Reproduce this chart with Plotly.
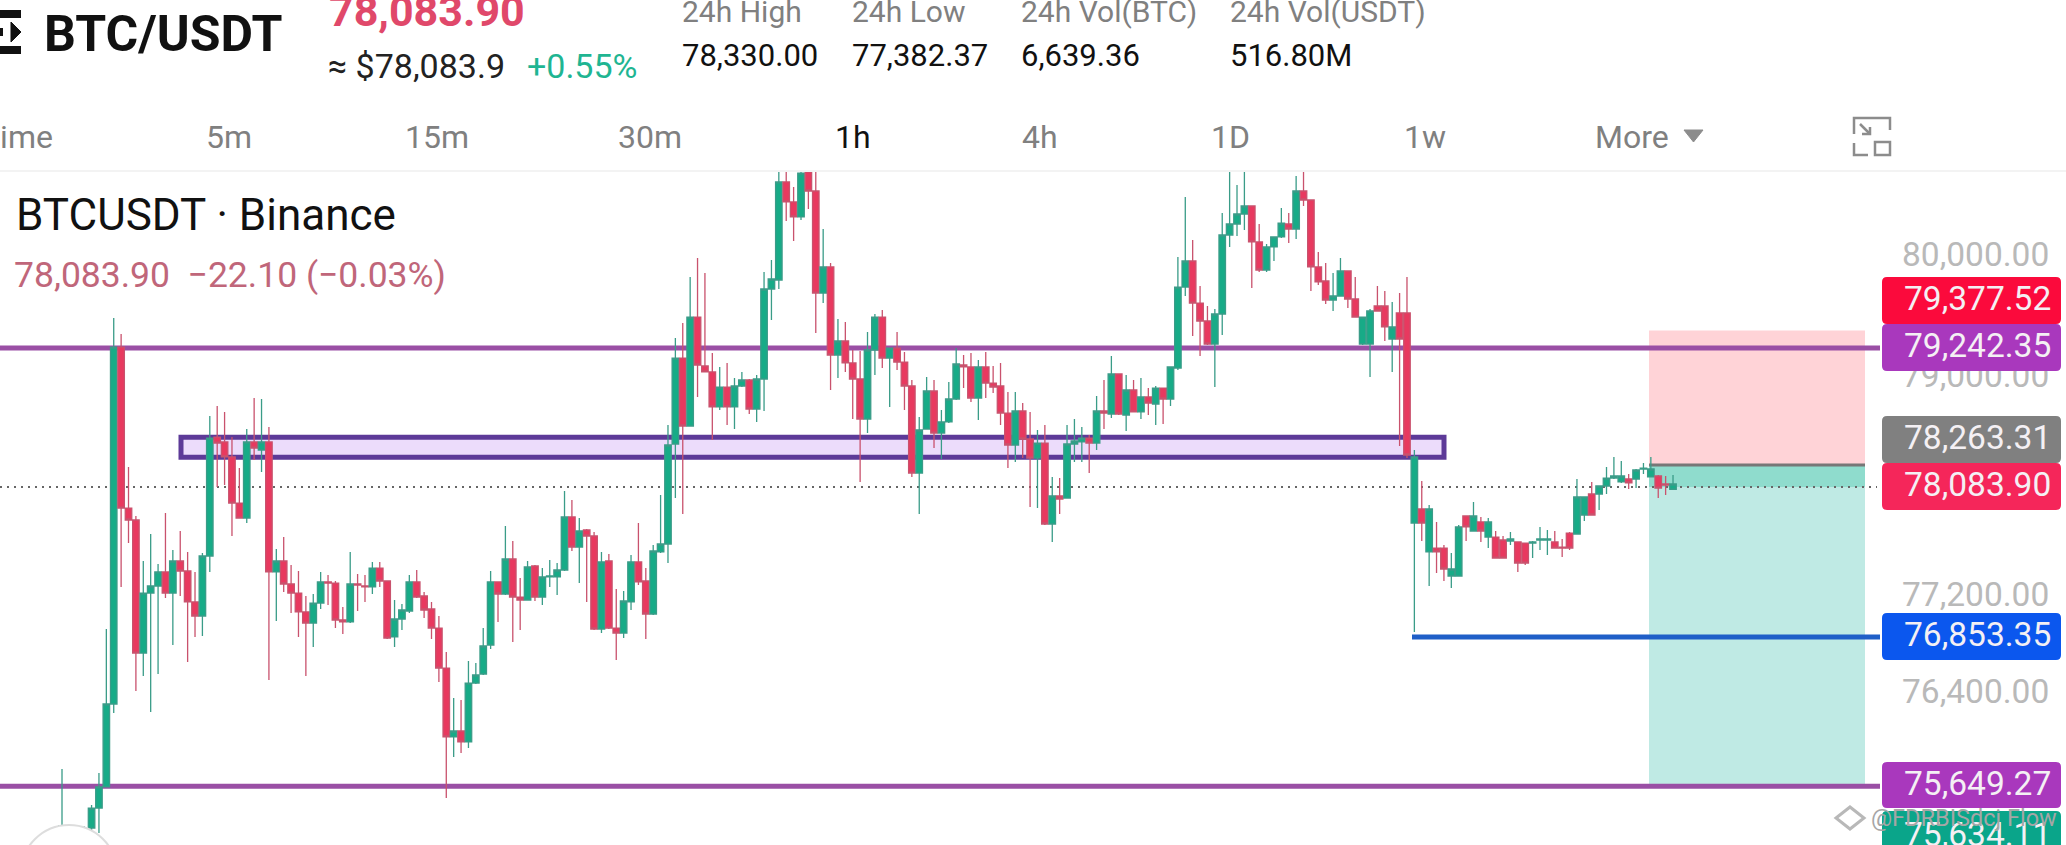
import plotly.graph_objects as go

W = 2066
H = 845
FONT = "Roboto"

# candle values, one entry per hourly candle
up_flags = (
    "GGRGGGGGRRRGGGRGRRRGGRRRRGRGRGRRRRGGRRRGRRGRRGGGRRRRRGRGGGGRGRRGRGGGGRGRRGRRGGRRGGGGRGRRRGRGGRGGGGRRGRRGRGRRRGGRGRRRGGRGGGRRGRRRRGRRGRGRGGGRGRGRGRGRGRGGGRRRGGGGGRRGGGRGRRRRGGRRGGRRGRRGRGRRGGRGRGRRGRRGGGRRRGGRGGGGRGGGRRGR"
)
highs = [
    75790, 75300, 75280, 75320, 75495, 75757, 76938, 79488, 79357, 78267,
    77865, 77496, 77717, 77471, 77889, 77586, 77742, 77570, 77406, 77561,
    78685, 78767, 78718, 78512, 78258, 78578, 78832, 78824, 78595, 77594,
    77692, 77463, 77414, 77209, 77225, 77406, 77381, 77332, 77119, 77570,
    77389, 77381, 77488, 77488, 77332, 77176, 77143, 77381, 77422, 77242,
    77160, 77045, 76750, 76372, 76356, 76676, 76659, 76946, 77414, 77324,
    77783, 77660, 77356, 77496, 77463, 77438, 77504, 77479, 78070, 77996,
    77848, 77758, 77734, 77570, 77553, 77266, 77250, 77545, 77807, 77438,
    77627, 78037, 78611, 79324, 79447, 79825, 79980, 79857, 79201, 79087,
    79120, 78996, 79046, 78988, 79021, 79866, 79964, 80780, 80780, 80563,
    80780, 80780, 80780, 80218, 79939, 79480, 79456, 79226, 79218, 79374,
    79521, 79554, 79242, 79374, 79209, 78980, 78677, 79004, 78980, 78734,
    78964, 79242, 79185, 79201, 79144, 79209, 79095, 79120, 78882, 78882,
    78791, 78718, 78570, 78611, 78185, 78176, 78611, 78660, 78595, 78529,
    78849, 78980, 79177, 79029, 79021, 78980, 78996, 78914, 78931, 78914,
    79087, 79988, 80481, 80128, 79751, 79587, 79562, 80349, 80780, 80579,
    80780, 80407, 80259, 80095, 80153, 80390, 80349, 80653, 80780, 80456,
    80030, 79939, 79857, 79980, 79874, 79825, 79496, 79562, 79751, 79710,
    79620, 79693, 79825, 78406, 78152, 77955, 77816, 77627, 77561, 77791,
    77865, 77980, 77857, 77848, 77742, 77701, 77734, 77652, 77643, 77660,
    77775, 77750, 77742, 77676, 77734, 78168, 78021, 78144, 78111, 78267,
    78349, 78316, 78209, 78250, 78299, 78349, 78201, 78193, 78201,
]
body_tops = [
    75323, 75230, 75230, 75290, 75470, 75643, 76323, 79250, 79250, 77930,
    77832, 77233, 77291, 77406, 77406, 77496, 77496, 77414, 77160, 77537,
    78504, 78512, 78472, 78349, 77971, 78472, 78472, 78472, 78472, 77496,
    77496, 77307, 77233, 77078, 77151, 77324, 77324, 77315, 77012, 77307,
    77307, 77291, 77438, 77438, 77332, 77020, 77094, 77324, 77324, 77209,
    77102, 76946, 76618, 76102, 76102, 76495, 76561, 76799, 77324, 77324,
    77512, 77512, 77200, 77447, 77455, 77365, 77373, 77422, 77857, 77857,
    77742, 77750, 77701, 77488, 77496, 76946, 77168, 77488, 77488, 77332,
    77578, 77635, 78447, 79160, 79160, 79496, 79496, 79095, 79046, 78922,
    78922, 78931, 78980, 78980, 78988, 79726, 79808, 80604, 80604, 80440,
    80677, 80686, 80530, 79907, 79907, 79300, 79300, 79120, 78988, 79226,
    79496, 79496, 79242, 79242, 79127, 78931, 78570, 78890, 78890, 78636,
    78824, 79111, 79103, 79087, 79087, 79087, 78955, 78931, 78709, 78726,
    78726, 78496, 78463, 78463, 78029, 78029, 78455, 78480, 78504, 78504,
    78726, 78726, 79029, 79029, 78898, 78898, 78841, 78841, 78914, 78914,
    79087, 79742, 79956, 79956, 79611, 79464, 79521, 80169, 80259, 80341,
    80407, 80407, 80112, 80071, 80153, 80267, 80259, 80530, 80530, 80456,
    79907, 79792, 79669, 79874, 79874, 79644, 79496, 79546, 79587, 79587,
    79415, 79530, 79530, 78349, 77922, 77922, 77602, 77602, 77430, 77775,
    77865, 77865, 77816, 77816, 77692, 77668, 77676, 77652, 77643, 77652,
    77676, 77676, 77652, 77610, 77725, 78021, 78021, 78045, 78111, 78176,
    78193, 78193, 78168, 78242, 78258, 78250, 78193, 78127, 78127,
]
body_bottoms = [
    75249, 75120, 75180, 75190, 75306, 75470, 75643, 76323, 77930, 77832,
    76741, 76741, 77233, 77291, 77233, 77233, 77414, 77160, 77045, 77045,
    77537, 78463, 78349, 77971, 77848, 77848, 78422, 78406, 77406, 77406,
    77307, 77233, 77078, 76987, 76987, 77151, 77315, 77012, 76996, 76996,
    77299, 77283, 77283, 77332, 76864, 76873, 77020, 77086, 77200, 77094,
    76946, 76618, 76053, 76053, 76012, 76012, 76495, 76569, 76807, 77225,
    77225, 77200, 77176, 77176, 77200, 77200, 77365, 77365, 77422, 77610,
    77610, 77701, 76938, 76938, 76946, 76905, 76905, 77160, 77324, 77061,
    77061, 77570, 77635, 78455, 78603, 78603, 79103, 79046, 78759, 78759,
    78759, 78759, 78931, 78742, 78742, 78988, 79726, 79800, 80440, 80317,
    80317, 80530, 79693, 79693, 79185, 79185, 79120, 78988, 78660, 78660,
    79226, 79160, 79160, 79127, 78931, 78217, 78217, 78578, 78545, 78545,
    78636, 78824, 79087, 78832, 78832, 78955, 78922, 78709, 78447, 78447,
    78496, 78340, 78340, 77799, 77799, 78004, 78012, 78455, 78472, 78463,
    78463, 78709, 78701, 78701, 78693, 78718, 78718, 78791, 78783, 78824,
    78824, 79078, 79742, 79611, 79464, 79275, 79275, 79521, 80169, 80259,
    80341, 80112, 79882, 79882, 80071, 80153, 80218, 80218, 80456, 79907,
    79784, 79636, 79636, 79669, 79644, 79496, 79275, 79275, 79546, 79415,
    79316, 79316, 78365, 77807, 77807, 77570, 77570, 77430, 77373, 77373,
    77775, 77742, 77742, 77692, 77520, 77520, 77660, 77479, 77479, 77643,
    77668, 77668, 77602, 77602, 77602, 77717, 77873, 77873, 78045, 78111,
    78176, 78144, 78136, 78168, 78250, 78185, 78094, 78119, 78084,
]
lows = [
    75208, 75080, 75120, 75150, 75290, 75265, 75643, 76249, 77283, 77643,
    76430, 76553, 76258, 76569, 77192, 76807, 77209, 76668, 76873, 76881,
    77406, 78103, 78119, 77701, 77848, 77807, 78324, 78226, 76520, 77004,
    77242, 77069, 76873, 76553, 76791, 77102, 77135, 76946, 76897, 76987,
    77086, 77160, 77225, 77283, 76856, 76791, 76930, 77069, 77192, 77028,
    76856, 76504, 75552, 75889, 75921, 75962, 76487, 76561, 76774, 76996,
    77217, 76832, 76930, 77176, 77168, 77135, 77283, 77217, 77414, 77578,
    77315, 77160, 76930, 76905, 76938, 76684, 76864, 77094, 77299, 76856,
    77053, 77561, 77479, 78012, 77881, 78603, 78841, 79046, 78488, 78734,
    78611, 78578, 78922, 78701, 78636, 78726, 79472, 79726, 80284, 80120,
    80292, 80382, 79365, 79611, 78898, 78996, 79046, 78660, 78144, 78545,
    79021, 79078, 78759, 79062, 78734, 78185, 77881, 78578, 78422, 78332,
    78627, 78816, 78914, 78800, 78652, 78832, 78873, 78611, 78258, 78308,
    78340, 77939, 77930, 77791, 77652, 77881, 78012, 78308, 78308, 78217,
    78406, 78578, 78668, 78693, 78562, 78718, 78660, 78693, 78611, 78619,
    78767, 79062, 79669, 79341, 79177, 79267, 78922, 79349, 80071, 80161,
    80210, 79734, 79866, 79866, 79956, 80144, 80103, 80136, 80407, 79710,
    79759, 79603, 79546, 79669, 79570, 79496, 79267, 79004, 79546, 79300,
    79046, 78439, 78340, 76914, 77660, 77291, 77397, 77332, 77274, 77373,
    77660, 77742, 77652, 77602, 77520, 77520, 77627, 77406, 77463, 77520,
    77586, 77545, 77602, 77529, 77586, 77717, 77824, 77873, 77914, 78045,
    78168, 78136, 78086, 78094, 78209, 78185, 78012, 78037, 78084,
]
candle_index = list(range(len(highs)))

opens = [b if f == "G" else t for f, t, b in zip(up_flags, body_tops, body_bottoms)]
closes = [t if f == "G" else b for f, t, b in zip(up_flags, body_tops, body_bottoms)]

# right axis labels, placed where the picture has them
tick_prices = [80010, 79020, 77225, 76425]
tick_labels = ["80,000.00", "79,000.00", "77,200.00", "76,400.00"]

resistance = 79242
support = 75649
swing_low = 76872
stop_price = 79385
entry_price = 78283
last_price = 78103
target_price = 75668
zone_top = 78510
zone_bottom = 78346

# price badges on the right: label, top px, bottom px, colour
badges = [
    ("79,377.52", 277, 324, "#fb0a3c"),
    ("79,242.35", 324, 371, "#a938bd"),
    ("78,263.31", 416, 463, "#808080"),
    ("78,083.90", 463, 510, "#f5265a"),
    ("76,853.35", 613, 660, "#0b57ee"),
    ("75,649.27", 762, 808, "#a938bd"),
    ("75,634.11", 811, 860, "#0aa58a"),
]

# header
tabs = [
    ("5m", 205, "#808080"),
    ("15m", 404, "#808080"),
    ("30m", 617, "#808080"),
    ("4h", 1021, "#808080"),
    ("1D", 1210, "#808080"),
    ("1w", 1403, "#808080"),
    ("More", 1594, "#808080"),
]
stat_names = ["24h High", "24h Low", "24h Vol(BTC)", "24h Vol(USDT)"]
stat_values = ["78,330.00", "77,382.37", "6,639.36", "516.80M"]
stat_x = [681, 851, 1020, 1229]

PLOT_RIGHT = 1901
X0 = 62
STEP = 7.39


def px(x):
    return x / W


def py(y):
    return 1 - y / H


def cx(x):
    return (x - X0) / STEP


def label(text, x, y, size, color, anchor="left", bold=False):
    return dict(
        text=f"<b>{text}</b>" if bold else text,
        x=px(x),
        y=py(y),
        xref="paper",
        yref="paper",
        xanchor=anchor,
        yanchor="middle",
        showarrow=False,
        borderpad=0,
        font={"family": FONT, "size": size, "color": color},
    )


def rect(x0, x1, y0, y1, fill, layer="below"):
    return dict(type="rect", xref="x", yref="y", x0=cx(x0), x1=cx(x1), y0=y0, y1=y1,
                fillcolor=fill, line={"width": 0}, layer=layer)


def hline(x0, x1, y, color, width, dash="solid"):
    return dict(type="line", xref="x", yref="y", x0=cx(x0), x1=cx(x1), y0=y, y1=y,
                line={"color": color, "width": width, "dash": dash}, layer="below")


def page_rect(x0, x1, y0, y1, fill):
    return dict(type="rect", xref="paper", yref="paper", x0=px(x0), x1=px(x1), y0=py(y0), y1=py(y1),
                fillcolor=fill, line={"width": 0}, layer="above")


def page_path(points, color, width=2.5, fill=None, close=False):
    path = "M " + " L ".join(f"{px(x):.5f},{py(y):.5f}" for x, y in points)
    if close:
        path += " Z"
    return dict(type="path", xref="paper", yref="paper", path=path,
                line={"color": color, "width": width},
                fillcolor=fill if fill else "rgba(0,0,0,0)", layer="above")


def badge_shape(x0, x1, y0, y1, fill, r=5):
    # rounded badge
    pts = [
        f"M {px(x0 + r):.5f},{py(y0):.5f}",
        f"L {px(x1 - r):.5f},{py(y0):.5f}",
        f"Q {px(x1):.5f},{py(y0):.5f} {px(x1):.5f},{py(y0 + r):.5f}",
        f"L {px(x1):.5f},{py(y1 - r):.5f}",
        f"Q {px(x1):.5f},{py(y1):.5f} {px(x1 - r):.5f},{py(y1):.5f}",
        f"L {px(x0 + r):.5f},{py(y1):.5f}",
        f"Q {px(x0):.5f},{py(y1):.5f} {px(x0):.5f},{py(y1 - r):.5f}",
        f"L {px(x0):.5f},{py(y0 + r):.5f}",
        f"Q {px(x0):.5f},{py(y0):.5f} {px(x0 + r):.5f},{py(y0):.5f} Z",
    ]
    return dict(type="path", xref="paper", yref="paper", path=" ".join(pts),
                fillcolor=fill, line={"width": 0}, layer="above")


fig = go.Figure()

fig.add_trace(
    go.Candlestick(
        x=candle_index,
        open=opens,
        high=highs,
        low=lows,
        close=closes,
        increasing={"line": {"color": "#3a9c88", "width": 1.3}, "fillcolor": "#17ab87"},
        decreasing={"line": {"color": "#c9526d", "width": 1.3}, "fillcolor": "#e8395f"},
        hoverinfo="skip",
    )
)

shapes = [
    rect(1649, 1865, entry_price, stop_price, "#ffd3d7"),
    rect(1649, 1865, target_price, entry_price, "#bfeae4"),
    rect(1649, 1865, last_price, entry_price, "#8fdccd"),
    hline(1649, 1865, entry_price, "#777777", 3),
    hline(0, 1877, last_price, "#666666", 2, "2px,5px"),
    hline(0, 1880, resistance, "#9a4fa5", 5),
    hline(0, 1880, support, "#9a4fa5", 5),
    hline(1412, 1880, swing_low, "#1f5fc8", 5),
    dict(type="rect", xref="x", yref="y", x0=cx(181), x1=cx(1444), y0=zone_bottom, y1=zone_top,
         fillcolor="#ecdcfb", line={"color": "#5d3a98", "width": 5}, layer="below"),
    # separator under the tabs
    page_rect(0, W, 170, 172, "#f3f3f3"),
    # round button bottom left
    dict(type="circle", xref="paper", yref="paper", x0=px(21), x1=px(117), y0=py(921), y1=py(825),
         fillcolor="white", line={"color": "#dddddd", "width": 2}, layer="above"),
    # exchange logo
    page_rect(0, 21, 10, 18, "#111111"),
    page_rect(0, 21, 46, 54, "#111111"),
    page_rect(0, 3, 28, 36, "#111111"),
    page_path([(11, 22), (21, 32), (11, 42)], "#111111", 1, "#111111", True),
    # more arrow
    page_path([(1684, 130), (1703, 130), (1693.5, 142)], "#8c8c8c", 1, "#8c8c8c", True),
    # expand icon
    page_path([(1854, 134), (1854, 118), (1890, 118), (1890, 130)], "#8c8c8c"),
    page_path([(1854, 143), (1854, 155), (1868, 155)], "#8c8c8c"),
    page_path([(1875, 142), (1890, 142), (1890, 155), (1875, 155)], "#8c8c8c", 2.5, None, True),
    page_path([(1860, 124), (1870, 134)], "#8c8c8c"),
    page_path([(1862, 134), (1870, 134), (1870, 127)], "#8c8c8c"),
]

annotations = [
    label("BTC/USDT", 43, 34, 50, "#111111", bold=True),
    label("78,083.90", 328, 11, 43, "#e0486a", bold=True),
    label("≈ $78,083.9", 327, 66, 34, "#222222"),
    label("+0.55%", 526, 66, 34, "#1fb592"),
    label("Time", 54, 137, 32, "#808080", anchor="right"),
    label("1h", 834, 137, 32, "#111111"),
    label("BTCUSDT · Binance", 15, 215, 44, "#111111"),
    label("78,083.90  −22.10 (−0.03%)", 13, 275, 35.5, "#c0667a"),
]
for text, x, color in tabs:
    annotations.append(label(text, x, 137, 32, color))
for name, value, x in zip(stat_names, stat_values, stat_x):
    annotations.append(label(name, x, 12, 30, "#808080"))
    annotations.append(label(value, x, 55, 31, "#111111"))

for text, top, bottom, color in badges:
    shapes.append(badge_shape(1882, 2061, top, bottom, color))
    y_mid = (top + bottom) / 2 - 2 if bottom < H else 834
    annotations.append(label(text, 1903, y_mid, 33.5, "#f4f0f4"))

# watermark over the last badges
shapes.append(page_path([(1836, 818), (1850, 807), (1864, 818), (1850, 829)], "#b8b8b8", 3, None, True))
annotations.append(label("@FDRBISdcj Flow", 1870, 818, 23.5, "#a6a6a6"))

fig.update_layout(
    width=W,
    height=H,
    margin={"l": 0, "r": 0, "t": 0, "b": 0},
    autosize=False,
    plot_bgcolor="white",
    paper_bgcolor="white",
    showlegend=False,
    boxmode="overlay",
    boxgap=0.12,
    boxgroupgap=0,
    xaxis={
        "domain": [0, PLOT_RIGHT / W],
        "range": [cx(0), cx(PLOT_RIGHT)],
        "rangeslider": {"visible": False},
        "showgrid": False,
        "zeroline": False,
        "showticklabels": False,
        "ticks": "",
    },
    yaxis={
        "domain": [0, 675 / H],
        "range": [75167, 80702],
        "side": "right",
        "showgrid": False,
        "zeroline": False,
        "ticks": "",
        "tickmode": "array",
        "tickvals": tick_prices,
        "ticktext": tick_labels,
        "tickfont": {"family": FONT, "size": 33.5, "color": "#b9b9b9"},
    },
    shapes=shapes,
    annotations=annotations,
)

fig.write_html(
    "out.html",
    config={"displayModeBar": False},
    post_script="document.body.style.margin='0';document.body.style.overflow='hidden';",
)
